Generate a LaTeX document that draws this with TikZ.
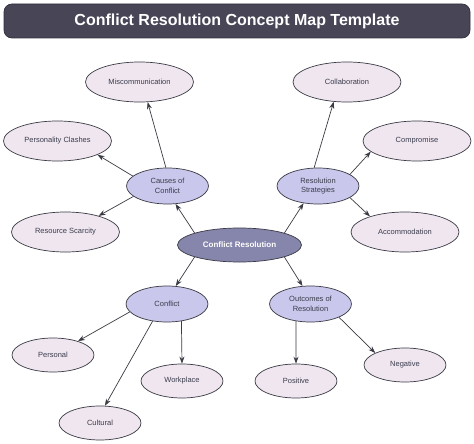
\documentclass[tikz,border=0pt]{standalone}
\usepackage{fontspec}
\setmainfont{Liberation Sans}
\usetikzlibrary{shapes.geometric}
\usetikzlibrary{arrows.meta}

\definecolor{titlefill}{HTML}{474556}
\definecolor{mainfill}{HTML}{8686AC}
\definecolor{subfill}{HTML}{C9C7EB}
\definecolor{leaffill}{HTML}{EFE6F0}
\definecolor{linegray}{HTML}{3A3A44}
\definecolor{textgray}{HTML}{3C3C4C}

\tikzset{
    maptitle/.style={rectangle, rounded corners=8pt, draw=titlefill!70!black, fill=titlefill, line width=0.7pt,
        minimum width=466pt, minimum height=34pt, text=white, font=\bfseries\fontsize{16}{18}\selectfont},
    concept/.style={ellipse, draw=linegray, line width=0.7pt, inner sep=0pt, align=center,
        text=textgray, font=\fontsize{7.5}{9.5}\selectfont},
    mainconcept/.style={concept, fill=mainfill, minimum width=124pt, minimum height=34pt,
        text=white, font=\bfseries\fontsize{8}{10}\selectfont},
    subconcept/.style={concept, fill=subfill, minimum width=82pt, minimum height=36pt},
    leaf/.style={concept, fill=leaffill, minimum width=108pt, minimum height=40pt},
    smallleaf/.style={concept, fill=leaffill, minimum width=82pt, minimum height=34pt},
    link/.style={draw=linegray, line width=0.7pt, -{Stealth[length=7pt,width=5pt]}}
}

\begin{document}
\begin{tikzpicture}[x=1pt, y=-1pt]

    % fix the page
    \useasboundingbox (0,0) rectangle (474,444);

    %%%%%%%%%%%%%%%%%%%%%%%%%%
    % Title
    %%%%%%%%%%%%%%%%%%%%%%%%%%
    \node [maptitle] (title) at (237,21) {Conflict Resolution Concept Map Template};

    %%%%%%%%%%%%%%%%%%%%%%%%%%
    % Concepts
    %%%%%%%%%%%%%%%%%%%%%%%%%%
    \node [mainconcept] (resolution) at (239.5,245) {Conflict Resolution};

    \node [subconcept] (causes) at (167.5,186) {Causes of\\Conflict};
    \node [subconcept] (strategies) at (318,186) {Resolution\\Strategies};
    \node [subconcept] (conflict) at (167,304) {Conflict};
    \node [subconcept] (outcomes) at (310.5,304) {Outcomes of\\Resolution};

    % causes
    \node [leaf] (miscomm) at (139.5,82) {Miscommunication};
    \node [leaf] (clashes) at (57.5,141) {Personality Clashes};
    \node [leaf] (scarcity) at (65.5,232) {Resource Scarcity};

    % strategies
    \node [leaf] (collab) at (347,82) {Collaboration};
    \node [leaf] (compromise) at (417,141) {Compromise};
    \node [leaf] (accommodation) at (405,232) {Accommodation};

    % types of conflict
    \node [smallleaf] (personal) at (53,355) {Personal};
    \node [smallleaf] (workplace) at (182,381) {Workplace};
    \node [smallleaf] (cultural) at (100,423) {Cultural};

    % outcomes
    \node [smallleaf] (positive) at (296,381) {Positive};
    \node [smallleaf] (negative) at (405,365) {Negative};

    %%%%%%%%%%%%%%%%%%%%%%%%%%
    % Links
    %%%%%%%%%%%%%%%%%%%%%%%%%%
    \draw [link] (resolution.165) -- (causes.-66);
    \draw [link] (resolution.15) -- (strategies.230);
    \draw [link] (resolution.195) -- (conflict.64);
    \draw [link] (resolution.-15) -- (outcomes.114);

    \draw [link] (causes.95) -- (miscomm.-68);
    \draw [link] (causes.164) -- (clashes.-19);
    \draw [link] (causes.197) -- (scarcity.26);

    \draw [link] (strategies.102) -- (collab.236);
    \draw [link] (strategies.20) -- (compromise.193);
    \draw [link] (strategies.-20) -- (accommodation.156);

    \draw [link] (conflict.192) -- (personal.29);
    \draw [link] (conflict.230) -- (cultural.74);
    \draw [link] (conflict.-50) -- (workplace.north);

    \draw [link] (outcomes.-130) -- (positive.north);
    \draw [link] (outcomes.-25) -- (negative.158);

\end{tikzpicture}
\end{document}
